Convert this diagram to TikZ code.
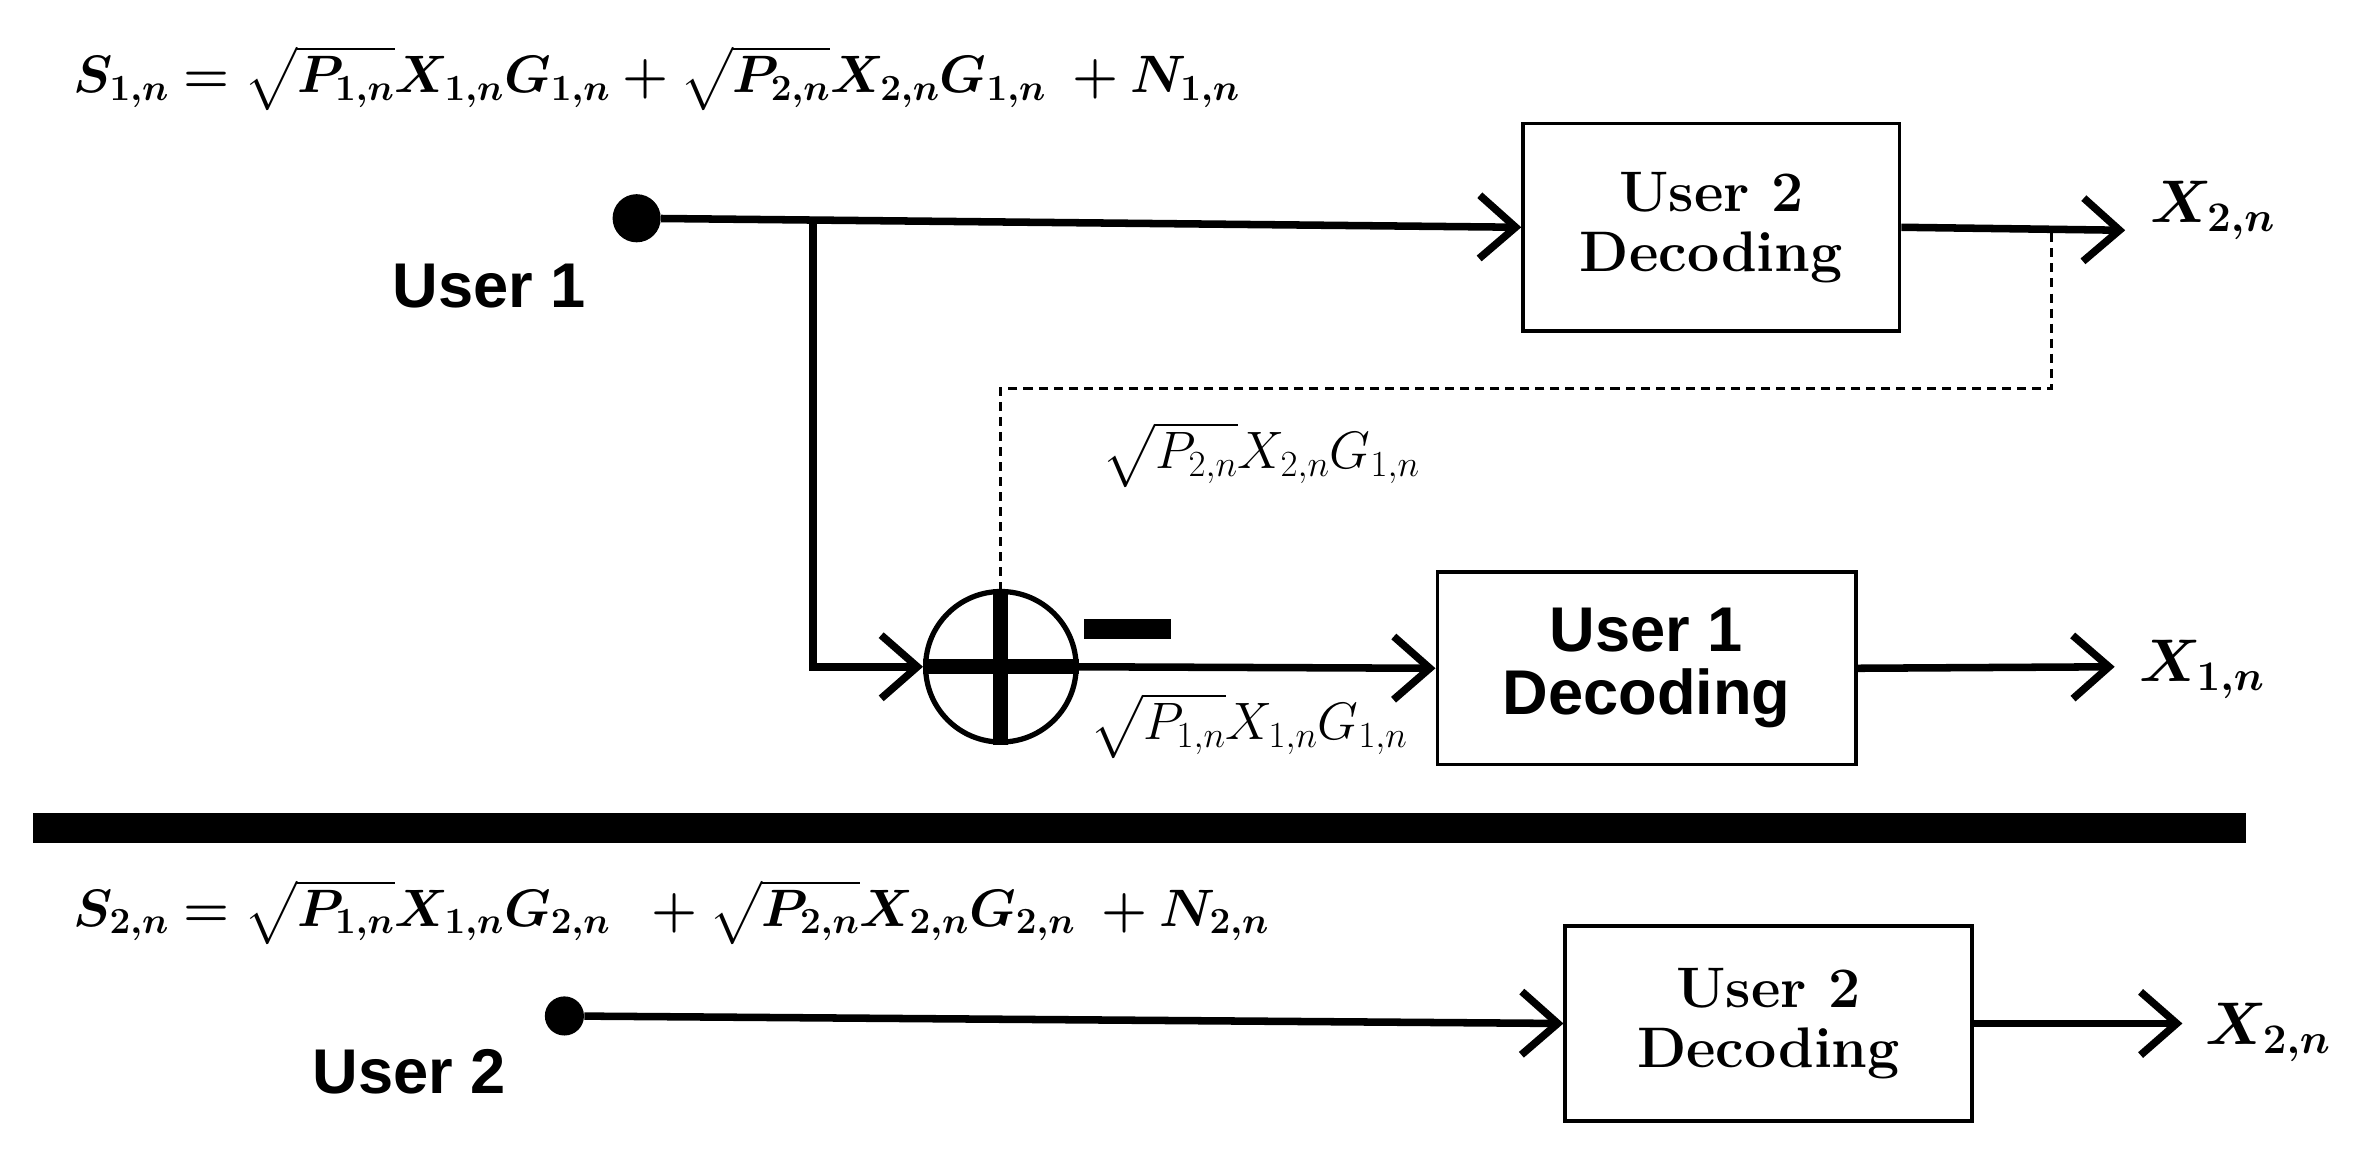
\RequirePackage{fix-cm}
\documentclass[tikz,border=0pt]{standalone}
\usepackage{amsmath,amssymb,bm}
\usepackage{fontspec}
\newfontfamily\sansb{Liberation Sans}[Scale=1]
\usetikzlibrary{arrows.meta}
\begin{document}
\begin{tikzpicture}[x=1pt,y=-1pt,
  ln/.style={line width=5pt,-{Straight Barb[length=24pt,width=42pt,line width=5pt]}},
  box/.style={draw,line width=2.5pt,minimum width=250pt,minimum height=138pt,align=center,inner sep=0pt},
  serifb/.style={font=\fontsize{38}{40}\selectfont\bfseries},
  sans/.style={font=\fontsize{42}{42}\selectfont\sansb\bfseries},
  mth/.style={font=\fontsize{35}{40}\selectfont},
  dot/.style={circle,fill,inner sep=0pt}]
\useasboundingbox (0,0) rectangle (1568,764);
\node[mth,anchor=west] (eq1) at (45,52) {$\bm{S_{1,n}=\sqrt{P_{1,n}}X_{1,n}G_{1,n}+\sqrt{P_{2,n}}X_{2,n}G_{1,n}\;+N_{1,n}}$};
\node[dot,minimum size=32pt] (d1) at (423,145) {};
\node[sans] (u1) at (325,190) {User 1};
\node[box,serifb,minimum width=250pt,minimum height=138pt] (b2) at (1137,151) {User 2\\Decoding};
\draw[ln] (d1) -- (b2.west);
\coordinate (o2) at (1412,153);
\draw[ln] (b2.east) -- (o2);
\node[mth,font=\fontsize{40}{40}\selectfont,anchor=west] (x2) at (1425,140) {$\bm{X_{2,n}}$};
\node[circle,draw,line width=3.5pt,minimum size=100pt,inner sep=0pt] (sum) at (665,443) {};
\draw[line width=10pt] (sum.north) -- (sum.south) (sum.west) -- (sum.east);
\node[fill,minimum width=58pt,minimum height=13pt,inner sep=0pt] (minus) at (749,418) {};
\coordinate (br) at (540,148);
\coordinate (bc) at (540,443);
\draw[ln] (br) -- (bc) -- (sum.west);
\coordinate (f1) at (1363,155);
\coordinate (f2) at (1363,258);
\coordinate (f3) at (665,258);
\draw[line width=2pt,dash pattern=on 6pt off 4pt] (f1) -- (f2) -- (f3) -- (sum.north);
\node[mth] (l2) at (838,302) {$\sqrt{P_{2,n}}X_{2,n}G_{1,n}$};
\node[box,sans,minimum width=278pt,minimum height=128pt] (b1) at (1094,444) {User 1\\Decoding};
\draw[ln] (sum.east) -- (b1.west);
\node[mth] (l1) at (830,482) {$\sqrt{P_{1,n}}X_{1,n}G_{1,n}$};
\coordinate (o1) at (1405,443);
\draw[ln] (b1.east) -- (o1);
\node[mth,font=\fontsize{40}{40}\selectfont,anchor=west] (x1) at (1418,445) {$\bm{X_{1,n}}$};
\coordinate (s1) at (22,550);
\coordinate (s2) at (1492,550);
\draw[line width=20pt] (s1) -- (s2);
\node[mth,anchor=west] (eq2) at (45,606) {$\bm{S_{2,n}=\sqrt{P_{1,n}}X_{1,n}G_{2,n}\;\;+\sqrt{P_{2,n}}X_{2,n}G_{2,n}\;+N_{2,n}}$};
\node[dot,minimum size=26pt] (d2) at (375,675) {};
\node[sans] (u2) at (272,712) {User 2};
\node[box,serifb,minimum width=270pt,minimum height=130pt] (b3) at (1175,680) {User 2\\Decoding};
\draw[ln] (d2) -- (b3.west);
\coordinate (o3) at (1450,680);
\draw[ln] (b3.east) -- (o3);
\node[mth,font=\fontsize{40}{40}\selectfont,anchor=west] (x3) at (1462,686) {$\bm{X_{2,n}}$};
\end{tikzpicture}
\end{document}
